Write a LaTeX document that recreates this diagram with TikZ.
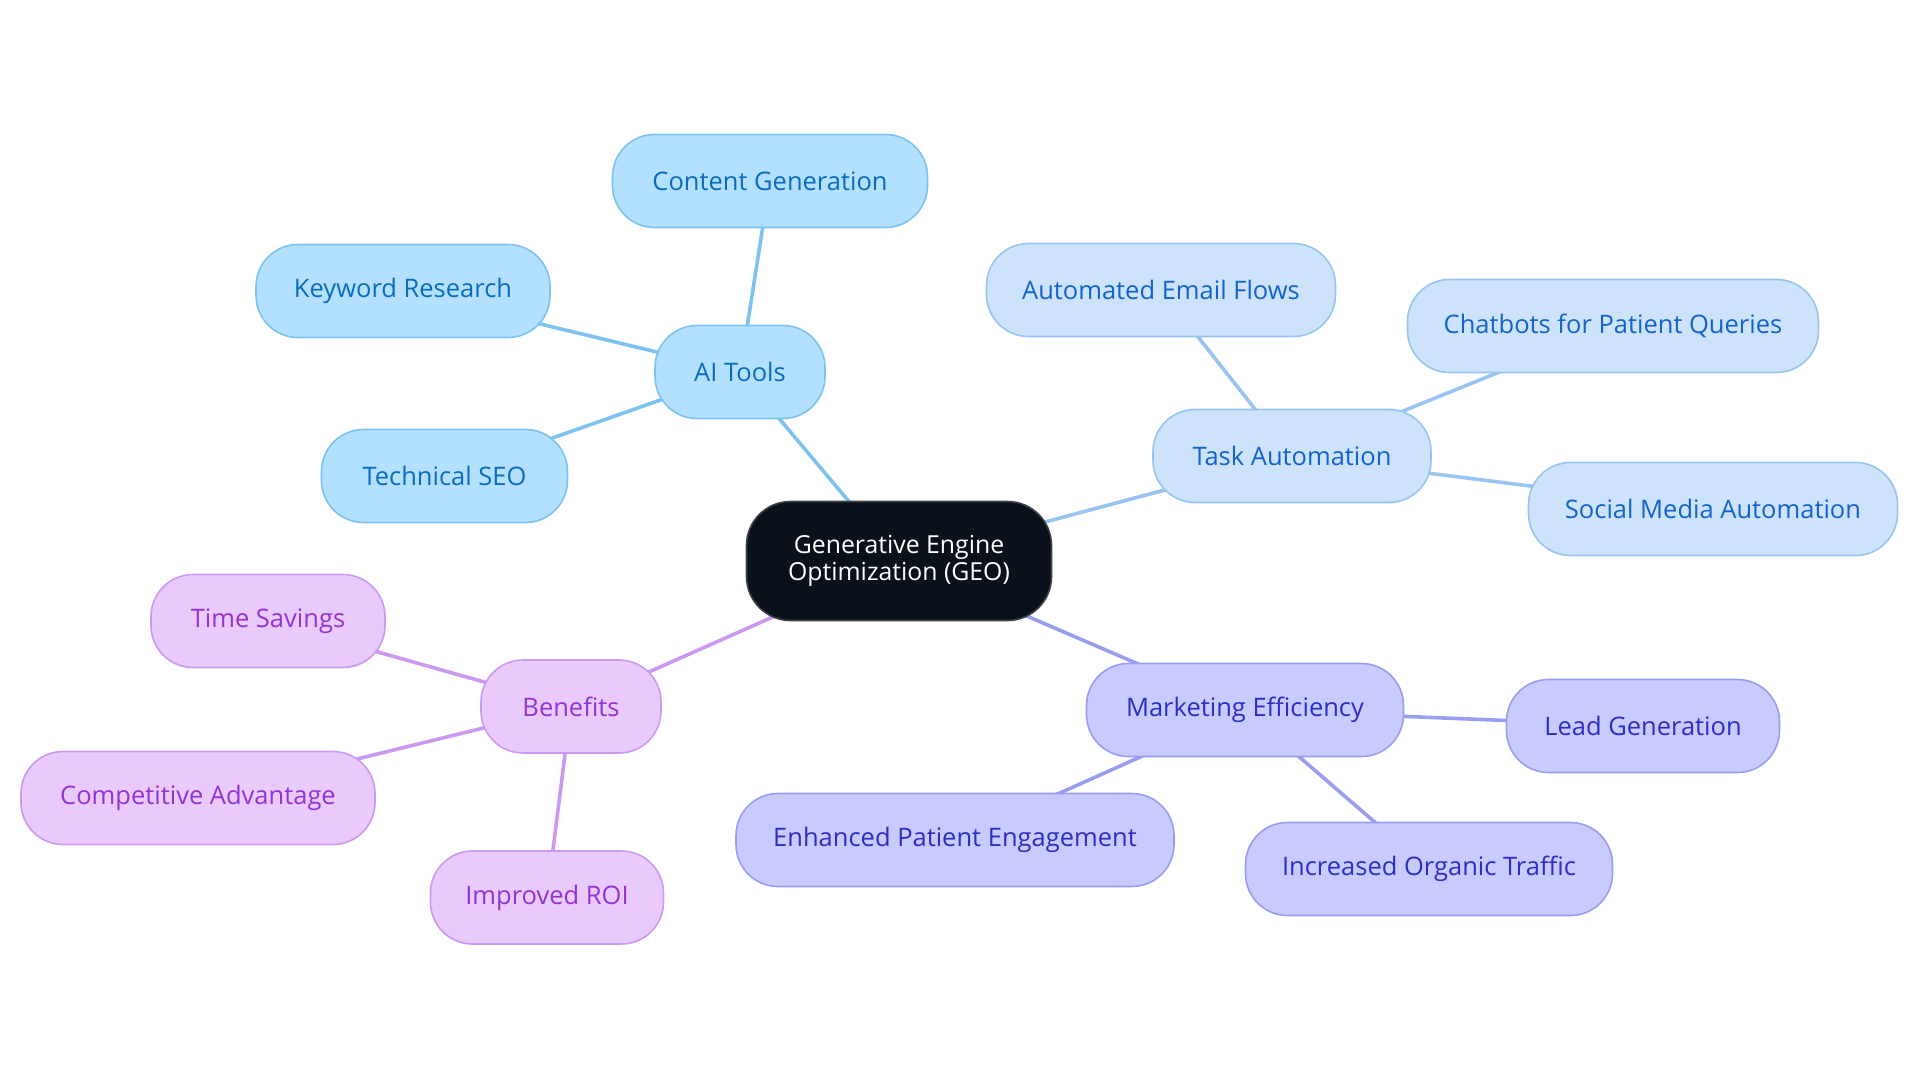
\documentclass[tikz,border=0pt]{standalone}
\usepackage{fontspec}
\setmainfont{Open Sans}
\usetikzlibrary{backgrounds}
\definecolor{aiF}{HTML}{B3E0FF}\definecolor{aiD}{HTML}{7EC3F0}\definecolor{aiT}{HTML}{0A6CBF}
\definecolor{taF}{HTML}{CCE3FB}\definecolor{taD}{HTML}{99C3F0}\definecolor{taT}{HTML}{1462CC}
\definecolor{meF}{HTML}{C9CAFF}\definecolor{meD}{HTML}{9A9DF0}\definecolor{meT}{HTML}{2B2FC2}
\definecolor{beF}{HTML}{E8CAFD}\definecolor{beD}{HTML}{CC99F2}\definecolor{beT}{HTML}{9333D4}
\definecolor{ceF}{HTML}{0B111A}
\tikzset{
  box/.style={rectangle, rounded corners=42pt, minimum height=93pt, inner sep=0pt, line width=1.6pt, font=\fontsize{25.5}{29}\selectfont},
  ai/.style={box, fill=aiF, draw=aiD, text=aiT},
  ta/.style={box, fill=taF, draw=taD, text=taT},
  me/.style={box, fill=meF, draw=meD, text=meT},
  be/.style={box, fill=beF, draw=beD, text=beT},
  root/.style={rectangle, rounded corners=44pt, minimum height=119pt, minimum width=305pt, inner sep=0pt, fill=ceF, draw=ceF!80!white, line width=1.6pt, text=white, align=center, font=\fontsize{24.8}{27.5}\selectfont},
  link/.style={line width=3.6pt},
}
\begin{document}
\begin{tikzpicture}[x=1pt,y=-1pt]
\useasboundingbox (0,0) rectangle (1920,1083);
\node[root] (geo) at (899,561) {Generative Engine\\Optimization (GEO)};
\node[ai, minimum width=170pt] (ait) at (740,372) {AI Tools};
\node[ai, minimum width=315pt] (cg) at (770,181) {Content Generation};
\node[ai, minimum width=294pt] (kr) at (403,291) {Keyword Research};
\node[ai, minimum width=246pt] (ts) at (444.5,476) {Technical SEO};
\node[ta, minimum width=278pt] (ta) at (1292,456) {Task Automation};
\node[ta, minimum width=349pt] (ae) at (1161,290) {Automated Email Flows};
\node[ta, minimum width=411pt] (cb) at (1613,326) {Chatbots for Patient Queries};
\node[ta, minimum width=369pt] (sm) at (1713,509) {Social Media Automation};
\node[me, minimum width=317pt] (me) at (1245,710) {Marketing Efficiency};
\node[me, minimum width=273pt] (lg) at (1643,726) {Lead Generation};
\node[me, minimum width=438pt] (ep) at (955,840) {Enhanced Patient Engagement};
\node[me, minimum width=367pt] (ot) at (1429,869) {Increased Organic Traffic};
\node[be, minimum width=180pt] (be) at (571,706.5) {Benefits};
\node[be, minimum width=234pt] (tsv) at (268,621) {Time Savings};
\node[be, minimum width=354pt] (ca) at (198,798) {Competitive Advantage};
\node[be, minimum width=233pt] (roi) at (547,897.5) {Improved ROI};
\begin{scope}[on background layer]
\draw[link, aiD] (geo.center) -- (ait.center);
\draw[link, aiD] (ait.center) -- (cg.center);
\draw[link, aiD] (ait.center) -- (kr.center);
\draw[link, aiD] (ait.center) -- (ts.center);
\draw[link, taD] (geo.center) -- (ta.center);
\draw[link, taD] (ta.center) -- (ae.center);
\draw[link, taD] (ta.center) -- (cb.center);
\draw[link, taD] (ta.center) -- (sm.center);
\draw[link, meD] (geo.center) -- (me.center);
\draw[link, meD] (me.center) -- (lg.center);
\draw[link, meD] (me.center) -- (ep.center);
\draw[link, meD] (me.center) -- (ot.center);
\draw[link, beD] (geo.center) -- (be.center);
\draw[link, beD] (be.center) -- (tsv.center);
\draw[link, beD] (be.center) -- (ca.center);
\draw[link, beD] (be.center) -- (roi.center);
\end{scope}
\end{tikzpicture}
\end{document}
